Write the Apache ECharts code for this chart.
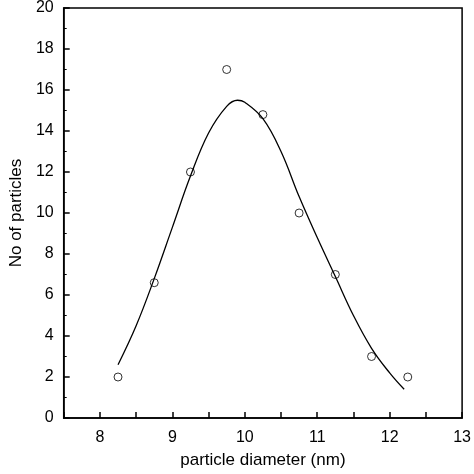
<!DOCTYPE html>
<html>
<head>
<meta charset="utf-8">
<script src="https://cdn.jsdelivr.net/npm/echarts@6/dist/echarts.min.js"></script>
<style>html,body{margin:0;background:#fff}#c{width:474px;height:474px}</style>
</head>
<body>
<div id="c"></div>
<script>
// measured points
const diam = [8.25, 8.75, 9.25, 9.75, 10.25, 10.75, 11.25, 11.75, 12.25];
const counts = [2, 6.6, 12, 17, 14.8, 10, 7, 3, 2];
// fitted curve
const fitX = [8.25, 8.5, 8.75, 9.0, 9.25, 9.5, 9.75, 9.9, 10.0, 10.25, 10.5, 10.75, 11.0, 11.25, 11.5, 11.75, 12.0, 12.2];
const fitY = [2.6, 4.5, 6.8, 9.3, 11.8, 13.9, 15.2, 15.5, 15.4, 14.6, 13.0, 10.8, 8.8, 6.9, 5.0, 3.4, 2.2, 1.4];

const font = "Liberation Sans, Arial, sans-serif";
const axisCommon = {
    axisLine: { lineStyle: { color: "#000", width: 1.5 } },
    axisTick: { inside: true, length: 6, lineStyle: { color: "#000", width: 1.5 } },
    splitLine: { show: false },
    axisLabel: { color: "#000", fontSize: 16, fontFamily: font },
    nameTextStyle: { color: "#000", fontSize: 17, fontFamily: font },
};

const chart = echarts.init(document.getElementById("c"));
chart.setOption({
    animation: false,
    grid: { left: 53, right: 4, top: 6, bottom: 51, show: true, borderColor: "#000", borderWidth: 1.5 },
    xAxis: {
        ...axisCommon,
        type: "value", min: 7.5, max: 13, interval: 0.5,
        axisLabel: { ...axisCommon.axisLabel, margin: 12,
            formatter: (v) => Number.isInteger(v) ? v : "" },
        name: "particle diameter (nm)", nameLocation: "middle", nameGap: 34,
    },
    yAxis: {
        ...axisCommon,
        type: "value", min: 0, max: 20, interval: 2,
        minorTick: { show: true, splitNumber: 2, length: 3, lineStyle: { color: "#000" } },
        axisLabel: { ...axisCommon.axisLabel, margin: 10 },
        name: "No of particles", nameLocation: "middle", nameGap: 38,
    },
    series: [
        {
            type: "line", smooth: 0.4, showSymbol: false,
            lineStyle: { color: "#000", width: 1.3 },
            data: fitX.map((x, i) => [x, fitY[i]]),
        },
        {
            type: "scatter", symbol: "circle", symbolSize: 8,
            itemStyle: { color: "#fff", borderColor: "#000", borderWidth: 1 },
            data: diam.map((x, i) => [x, counts[i]]),
        },
    ],
});
</script>
</body>
</html>
